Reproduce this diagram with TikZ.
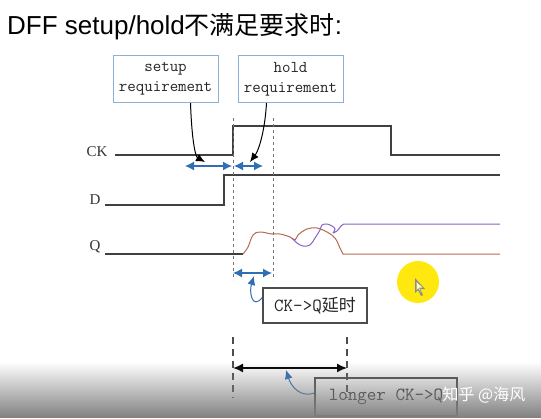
\documentclass[tikz,border=0pt]{standalone}
\usepackage{fontspec}
\setmainfont{Liberation Serif}
\setsansfont{Liberation Sans}
\newfontfamily\cjk{Noto Sans CJK SC}
\usetikzlibrary{arrows.meta,positioning,fadings}

\definecolor{boxblue}{HTML}{8DB0D8}
\definecolor{arrowblue}{HTML}{2F6DB5}
\definecolor{qbrown}{HTML}{B86A50}
\definecolor{qpurple}{HTML}{8A62C4}

\begin{document}
\begin{tikzpicture}[x=1pt, y=-1pt,
    reqbox/.style   = {draw=boxblue, line width=1pt, align=center, inner sep=1pt,
                       minimum width=105pt, minimum height=47pt,
                       font=\ttfamily\fontsize{16.5}{20}\selectfont, text=black!85},
    delaybox/.style = {draw=black!70, line width=1.3pt, inner sep=3pt, text=black!85,
                       font=\ttfamily\fontsize{18.5}{20}\selectfont},
    sig/.style      = {line width=1.3pt, black!75},
    tick/.style     = {dashed, black!55, line width=0.8pt},
    span/.style     = {{Latex[length=9pt,width=9pt]}-{Latex[length=9pt,width=9pt]}, line width=1.3pt, arrowblue},
    pointer/.style  = {-{Latex[length=9pt,width=8pt]}, line width=1pt},
    lbl/.style      = {font=\fontsize{15}{17}\selectfont, text=black!80}]
    \useasboundingbox (0,0) rectangle (541,418);
    \fill[white] (0,0) rectangle (541,418);

    % title
    \node[anchor=west, inner sep=0] (title) at (7,27)
        {\sffamily\fontsize{26}{28}\selectfont DFF setup/hold{\cjk\fontsize{25}{28}\selectfont 不满足要求时}:};

    % requirement boxes
    \node[reqbox] (setup) at (165.5,79) {setup\\requirement};
    \node[reqbox, right = 19pt of setup] (hold) {hold\\requirement};

    % signal names
    \node[lbl] (ck) at (97,152) {CK};
    \node[lbl] (d)  at (95,200) {D};
    \node[lbl] (q)  at (95,247) {Q};

    % waveforms
    \draw[sig] (115,155) -| (233,126) -| (391,155) -- (500,155);
    \draw[sig] (105,205) -| (224,175) -- (500,175);
    \draw[sig] (105,254) -- (243,254);
    \draw[qbrown, line width=1pt] plot[smooth, tension=0.6] coordinates
        {(243,254) (248,247) (253,235) (260,232) (272,234) (280,234) (290,237)
         (295,240) (298,235) (307,229) (317,228) (327,232) (335,238) (340,248) (343,254)}
        -- (500,254);
    \draw[qpurple, line width=1pt] plot[smooth, tension=0.6] coordinates
        {(292,238) (297,243) (303,246) (310,245) (315,238) (320,230) (322,225)
         (327,224) (332,226) (335,229) (333,233)}
        plot[smooth, tension=0.6] coordinates {(333,233) (337,231) (341,226) (344,224)}
        -- (500,224);

    % timing marks
    \draw[tick] (233,118) -- (233,280);
    \draw[tick] (273,118) -- (273,280);
    \coordinate (sutip) at (205,162);
    \coordinate (hotip) at (250,162);
    \draw[span] (185,166) -- (232,166);
    \draw[span] (234,166) -- (263,166);
    \draw[pointer] ([xshift=25pt]setup.south) .. controls (192,145) and (196,157) .. (sutip);
    \draw[pointer] ([xshift=-24pt]hold.south) .. controls (265,130) and (259,150) .. (hotip);

    % CK->Q delay
    \draw[span] (233,273) -- (272,273);
    \node[delaybox, minimum width=104pt, minimum height=35pt] (dly) at (315,305.5)
        {CK->Q{\cjk\fontsize{17}{18}\selectfont 延时}};
    \coordinate (dltip) at (254,276);
    \draw[pointer, arrowblue] ([yshift=8pt]dly.west) .. controls (252,310) and (249,292) .. (dltip);

    % longer CK->Q
    \draw[dashed, dash pattern=on 7pt off 5pt, black!70, line width=1.2pt] (233,337) -- (233,398);
    \draw[dashed, dash pattern=on 7pt off 5pt, black!70, line width=1.2pt] (347,337) -- (347,398);
    \draw[{Latex[length=10pt,width=9pt]}-{Latex[length=10pt,width=9pt]}, line width=1.5pt, black]
        (233,368) -- (347,368);
    \node[delaybox, minimum width=142pt, minimum height=38pt] (lng) at (386,397) {longer CK->Q};
    \coordinate (lgtip) at (286,370);
    \draw[pointer, arrowblue] ([yshift=4pt]lng.west) .. controls (300,398) and (291,386) .. (lgtip);

    % cursor highlight
    \fill[yellow!90!orange!95!white] (418,282) circle (21);
    \fill[black!45] (415,278) -- (415,293) -- (418,290) -- (421,296) -- (423,295) -- (420,289) -- (425,289) -- cycle;
    \fill[yellow!30] (416.5,282) -- (416.5,290) -- (418.5,288) -- (421,292.5) -- (419,287.5) -- (422.5,287.5) -- cycle;

    % bottom band and watermark
    \fill[black!50, path fading=north] (0,362) rectangle (541,418);
    \node[anchor=west, text=white, font=\cjk\fontsize{16}{18}\selectfont] (mark) at (439,395) {知乎 @海风};
\end{tikzpicture}
\end{document}
